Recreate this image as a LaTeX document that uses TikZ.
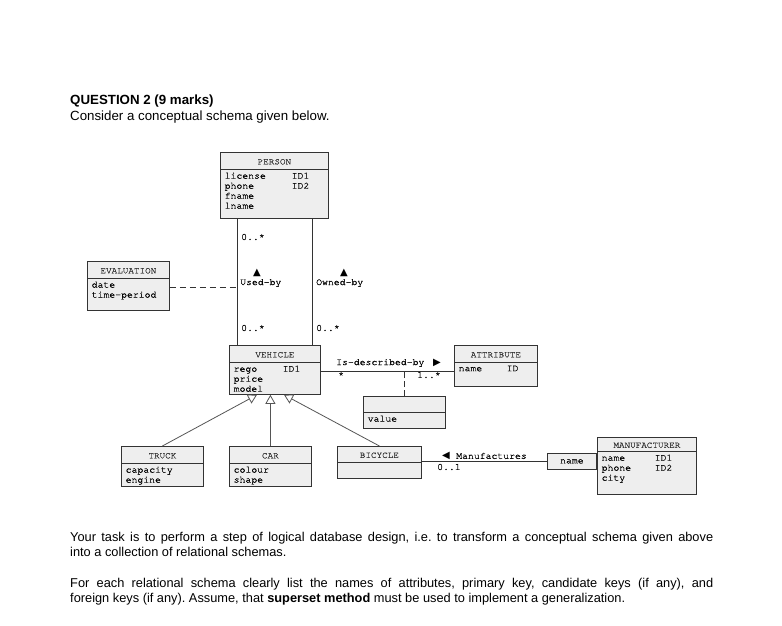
\documentclass[tikz,border=0pt]{standalone}
\usepackage{fontspec}
\setmainfont{Liberation Sans}
\setmonofont[FakeBold=0.5]{TeX Gyre Cursor}
\newfontfamily\symfont{DejaVu Sans}
\usetikzlibrary{arrows.meta, positioning, calc}
\definecolor{boxfill}{HTML}{EEEEEE}
\definecolor{boxline}{HTML}{333333}
\definecolor{linegray}{HTML}{555555}
\newcommand{\umlfont}{\ttfamily\fontsize{9.8}{10}\selectfont}
\newcommand{\umltitle}{\ttfamily\fontsize{9.3}{10}\selectfont\color{boxline}}
\newcommand{\idattr}[3]{\makebox[#1][l]{#2}#3}
% class box: name, top left corner, width, height, header height, title, attributes
\newcommand{\umlclass}[7]{%
  \node[classbox, minimum width=#3, minimum height=#4, anchor=north west] (#1) at (#2) {};
  \draw[divider] ([yshift=-#5]#1.north west) -- ([yshift=-#5]#1.north east);
  \node[classtitle] (#1-title) at ($(#1.north)!0.5!([yshift=-#5]#1.north)$) {#6};
  \node[attrs] (#1-attrs) at ([xshift=4.5pt, yshift=-#5-3.5pt]#1.north west) {#7};
}

\begin{document}
\frenchspacing
\begin{tikzpicture}[
    x=1pt, y=-1pt,
    classbox/.style={draw=boxline, fill=boxfill, line width=0.8pt, inner sep=0pt},
    divider/.style={draw=boxline, line width=1pt},
    classtitle/.style={font=\umltitle, inner sep=0pt, text height=5.8pt, text depth=0pt, yshift=-1pt},
    attrs/.style={font=\umlfont, align=left, inner sep=0pt, anchor=north west},
    lbl/.style={font=\umlfont, inner sep=0pt, anchor=west},
    role/.style={font=\symfont\fontsize{10}{10}\selectfont, inner sep=0pt},
    assoc/.style={draw=boxline, line width=0.8pt},
    isa/.style={draw=linegray, line width=0.8pt, -{Triangle[open, length=9pt, width=10pt, fill=white]}},
    para/.style={inner sep=0pt, anchor=base west, font=\fontsize{12.8}{15.4}\selectfont}
]
\fill[white] (0,0) rectangle (782,626);

\node[para, font=\bfseries\fontsize{13.3}{16}\selectfont] (question) at (70,104) {QUESTION 2 (9 marks)};
\node[para, font=\fontsize{13.3}{16}\selectfont] (intro) at (70,120.5) {Consider a conceptual schema given below.};

% classes
\umlclass{person}{220,152}{108pt}{66pt}{17pt}{PERSON}{\idattr{67pt}{license}{ID1}\\\idattr{67pt}{phone}{ID2}\\fname\\lname}
\umlclass{evaluation}{87,261}{82pt}{49pt}{17pt}{EVALUATION}{date\\time-period}
\umlclass{vehicle}{229,345}{91pt}{49pt}{17pt}{VEHICLE}{\idattr{49pt}{rego}{ID1}\\price\\model}
\umlclass{attribute}{454,345}{83pt}{41pt}{17pt}{ATTRIBUTE}{\idattr{48pt}{name}{ID}}
\umlclass{valuebox}{363,396}{82pt}{32pt}{16pt}{}{value}
\umlclass{truck}{121,446}{82pt}{40pt}{17pt}{TRUCK}{capacity\\engine}
\umlclass{car}{229,446}{82pt}{40pt}{17pt}{CAR}{colour\\shape}
\umlclass{bicycle}{337,446}{84pt}{32pt}{16pt}{BICYCLE}{}
\umlclass{manufacturer}{597,437}{99pt}{57pt}{14pt}{MANUFACTURER}{\idattr{53pt}{name}{ID1}\\\idattr{53pt}{phone}{ID2}\\city}
\node[classbox, minimum width=49pt, minimum height=16pt, font=\umlfont, anchor=north west] (namekey) at (547,453) {name};

% associations
\draw[assoc] ([xshift=17pt]person.south west) coordinate (usedtop) -- (usedtop |- vehicle.north);
\draw[assoc] ([xshift=-16pt]person.south east) coordinate (ownedtop) -- (ownedtop |- vehicle.north);
\draw[assoc, dash pattern=on 6pt off 4pt] ([yshift=-1.5pt]evaluation.east) -- ([yshift=-1.5pt]evaluation.east -| usedtop);
\draw[assoc] ([yshift=-1.5pt]vehicle.east) coordinate (descline) -- (descline -| attribute.west);
\draw[assoc, dash pattern=on 6pt off 3pt] (valuebox.north) -- (valuebox.north |- descline);
\draw[assoc] (bicycle.east |- namekey.west) -- (namekey.west);

% generalization
\draw[isa] (truck.north) -- ([xshift=28pt]vehicle.south west);
\draw[isa] (car.north) -- (car.north |- vehicle.south);
\draw[isa] (bicycle.north) -- ([xshift=55pt]vehicle.south west);

% labels
\node[lbl] (usedfrom) at (241,237) {0..*};
\node[role] (usedarrow) at (257,273) {▲};
\node[lbl] (usedby) at (240,283) {Used-by};
\node[role] (ownedarrow) at (344,273) {▲};
\node[lbl] (ownedby) at (316,283) {Owned-by};
\node[lbl] (usedto) at (241,328) {0..*};
\node[lbl] (ownedto) at (316,328) {0..*};
\node[lbl] (descby) at (336,363) {Is-described-by};
\node[role] (descarrow) at (437,363) {▶};
\node[lbl] (descfrom) at (338,375) {*};
\node[lbl] (descto) at (417,375) {1..*};
\node[role] (manarrow) at (446,456) {◀};
\node[lbl] (manuf) at (456,456) {Manufactures};
\node[lbl] (manto) at (437,467) {0..1};

% task text
\node[para] (task1) at (70,541.3) {\makebox[643pt][s]{Your task is to perform a step of logical database design, i.e. to transform a conceptual schema given above}};
\node[para] (task2) at (70,556.7) {into a collection of relational schemas.};
\node[para] (task3) at (70,587.3) {\makebox[643pt][s]{For each relational schema clearly list the names of attributes, primary key, candidate keys (if any), and}};
\node[para] (task4) at (70,602) {foreign keys (if any). Assume, that \textbf{superset method} must be used to implement a generalization.};
\end{tikzpicture}
\end{document}
